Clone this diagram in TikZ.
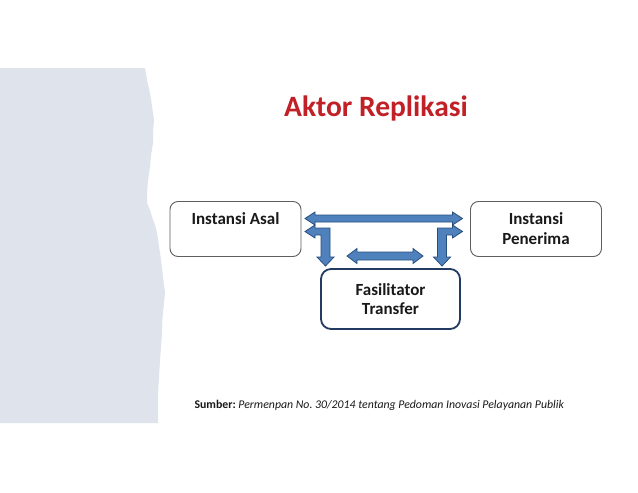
\documentclass[tikz,border=0pt]{standalone}
\usepackage{fontspec}
\setmainfont{Carlito}
\definecolor{band}{RGB}{222,227,236}
\definecolor{titlered}{RGB}{192,32,38}
\definecolor{arrowfill}{RGB}{79,129,189}
\definecolor{arrowline}{RGB}{40,78,128}
\definecolor{fasline}{RGB}{35,58,98}
\definecolor{boxline}{RGB}{95,95,95}
\tikzset{
  graybox/.style={draw=boxline, line width=0.9pt, rounded corners=8pt, minimum width=131pt, minimum height=55pt, align=center, font=\fontsize{17}{20}\selectfont\bfseries, text=black!90, inner sep=0pt},
  fasbox/.style={draw=fasline, line width=1.8pt, rounded corners=10pt, minimum width=139pt, minimum height=60pt, align=center, font=\fontsize{17}{19.5}\selectfont\bfseries, text=black!90, inner sep=0pt},
  blockarrow/.style={fill=arrowfill, draw=arrowline, line width=0.8pt, line join=miter},
}
\begin{document}
\begin{tikzpicture}[x=1pt,y=-1pt]
\useasboundingbox (0,0) rectangle (638,493);
\fill[white] (0,0) rectangle (638,493);
% torn paper band
\fill[band] (0,68) -- (145,68) -- (147,80) -- (150,93) -- (152,106) -- (154,120) -- (153,132) -- (153,143) -- (151,155) -- (150,167) -- (148,180) -- (147,193) -- (147,203) -- (150,210) -- (152,217) -- (155,225) -- (157,233) -- (159,246) -- (161,260) -- (162,268) -- (163,277) -- (164,285) -- (165,293) -- (164,303) -- (163,313) -- (162,323) -- (162,333) -- (161,347) -- (160,360) -- (159,377) -- (158,393) -- (158,408) -- (158,423) -- (0,423) -- cycle;
% title
\node[font=\fontsize{29.5}{34}\selectfont\bfseries, text=titlered] (title) at (376,108.5) {Aktor Replikasi};
% boxes
\node[graybox] (asal) at (235.5,229) {Instansi Asal\\ \mbox{}};
\node[graybox] (penerima) at (536,229) {Instansi\\ Penerima};
\node[fasbox] (fas) at (390.5,299) {Fasilitator\\ Transfer};
% top double arrow between asal and penerima
\draw[blockarrow] (305,218.5) -- (315,212) -- (315,215) -- (452.5,215) -- (452.5,212) -- (462.5,218.5) -- (452.5,225) -- (452.5,222) -- (315,222) -- (315,225) -- cycle;
% left bent arrow asal <-> fas
\draw[blockarrow] (305,231.5) -- (315,225) -- (315,228) -- (330,228) -- (330,257) -- (334,257) -- (325.5,266) -- (317,257) -- (321,257) -- (321,235) -- (315,235) -- (315,238) -- cycle;
% right bent arrow penerima <-> fas
\draw[blockarrow] (462.5,231.5) -- (452.5,225) -- (452.5,228) -- (437.5,228) -- (437.5,257) -- (433.5,257) -- (442,266) -- (450.5,257) -- (446.5,257) -- (446.5,235) -- (452.5,235) -- (452.5,238) -- cycle;
% middle double arrow
\draw[blockarrow] (347,256) -- (357,248.5) -- (357,252) -- (413,252) -- (413,248.5) -- (423,256) -- (413,263.5) -- (413,260) -- (357,260) -- (357,263.5) -- cycle;
% source
\node[anchor=west, font=\fontsize{11.8}{14}\selectfont, text=black!90] (src) at (191,405) {\frenchspacing\textbf{Sumber:} \textit{Permenpan No. 30/2014 tentang Pedoman Inovasi Pelayanan Publik}};
\end{tikzpicture}
\end{document}
